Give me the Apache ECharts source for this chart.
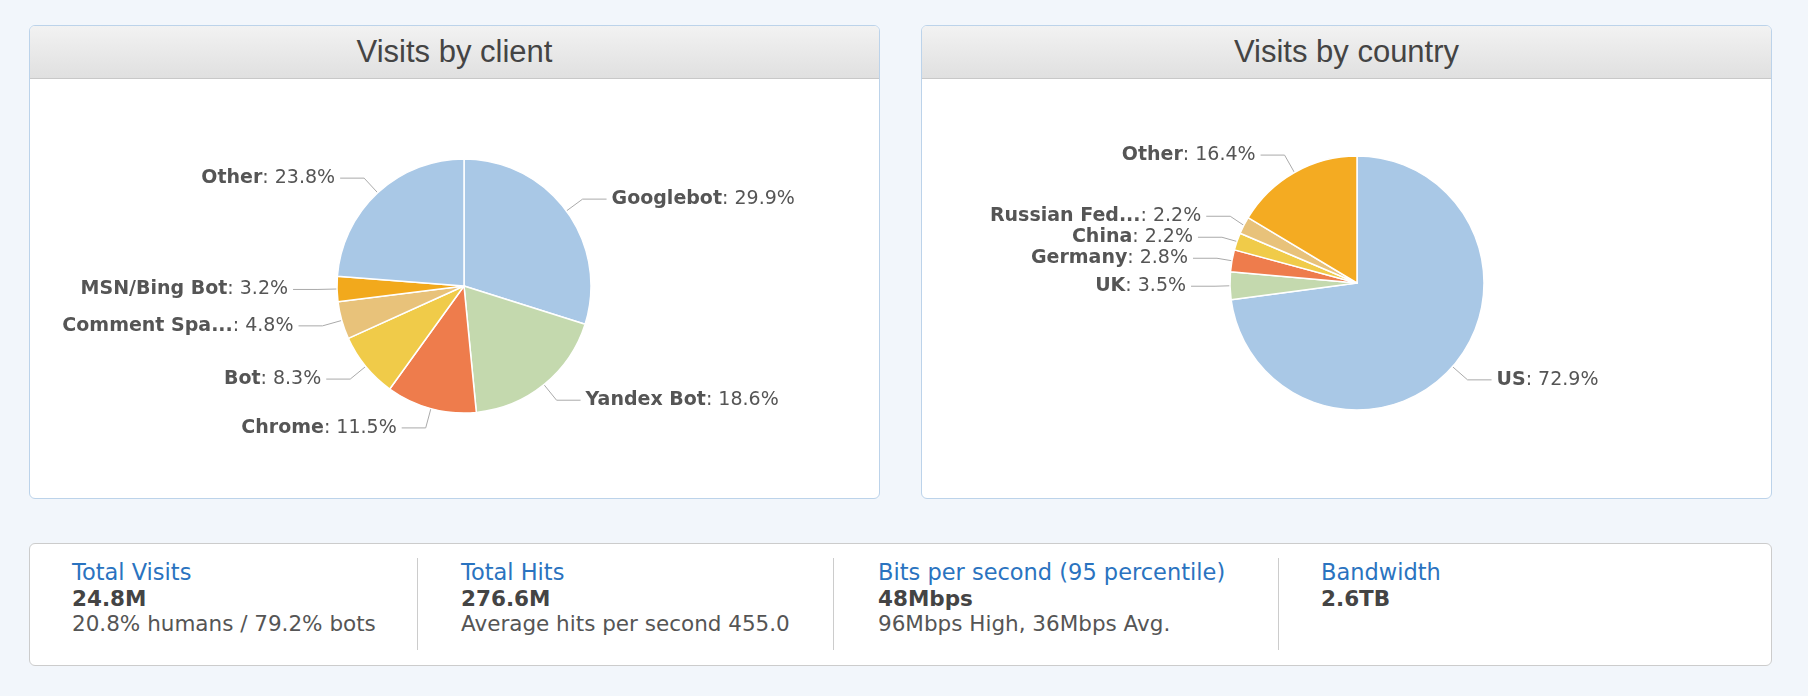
<!DOCTYPE html>
<html><head><meta charset="utf-8">
<script src="https://cdn.jsdelivr.net/npm/echarts@6/dist/echarts.min.js"></script>
<style>
body{margin:0;background:#f2f6fb;font-family:"DejaVu Sans",Arial,sans-serif;width:1808px;height:696px;position:relative;overflow:hidden}
.panel{position:absolute;top:25px;width:849px;height:472px;background:#fff;border:1px solid #bcd3ea;border-radius:6px;overflow:hidden}
.hdr{height:52px;background:linear-gradient(#f2f2f2,#e0e0e0);border-bottom:1px solid #c8c8c8;text-align:center;line-height:52px;font-size:31px;color:#444;font-family:"Liberation Sans",Arial,sans-serif}
.chart{position:absolute;top:53px;left:0;width:849px;height:419px}
#stats{position:absolute;left:29px;top:543px;width:1741px;height:121px;background:#fff;border:1px solid #ccc;border-radius:6px}
.col{position:absolute;top:14px;font-size:21.5px;color:#555;line-height:25px}
.col .t{color:#2a73c0;font-size:22.5px;line-height:28px}
.col b{color:#444}
.div{position:absolute;top:14px;width:1px;height:92px;background:#ccc}
</style></head><body>
<div class="panel" style="left:29px"><div class="hdr">Visits by client</div><div class="chart" id="c1"></div></div>
<div class="panel" style="left:921px"><div class="hdr">Visits by country</div><div class="chart" id="c2"></div></div>
<div id="stats">
<div class="col" style="left:42px"><div class="t">Total Visits</div><b>24.8M</b><br>20.8% humans / 79.2% bots</div>
<div class="div" style="left:387px"></div>
<div class="col" style="left:431px"><div class="t">Total Hits</div><b>276.6M</b><br>Average hits per second 455.0</div>
<div class="div" style="left:803px"></div>
<div class="col" style="left:848px"><div class="t">Bits per second (95 percentile)</div><b>48Mbps</b><br>96Mbps High, 36Mbps Avg.</div>
<div class="div" style="left:1248px"></div>
<div class="col" style="left:1291px"><div class="t">Bandwidth</div><b>2.6TB</b></div>
</div>
<script>
const clientNames=["Googlebot","Yandex Bot","Chrome","Bot","Comment Spa...","MSN/Bing Bot","Other"];
const clientValues=[29.9,18.6,11.5,8.3,4.8,3.2,23.8];
const clientColors=["#a9c8e6","#c4d9ae","#ee7c4c","#f0cb49","#e8c27a","#f2a91c","#a9c8e6"];
const countryNames=["US","UK","Germany","China","Russian Fed...","Other"];
const countryValues=[72.9,3.5,2.8,2.2,2.2,16.4];
const countryColors=["#a9c8e6","#c4d9ae","#ee7c4c","#f0cb49","#e8c27a","#f4ab22"];
function make(id,names,vals,cols,center){
  const c=echarts.init(document.getElementById(id));
  c.setOption({animation:false,series:[{type:'pie',radius:127,center:center,startAngle:90,
    data:names.map((n,i)=>({name:n,value:vals[i],itemStyle:{color:cols[i]}})),
    itemStyle:{borderColor:'#fff',borderWidth:1.5},
    label:{formatter:p=>'{b|'+p.name+'}{n|: '+p.value.toFixed(1)+'%}',
      rich:{b:{fontWeight:'bold',fontSize:19,color:'#555',fontFamily:'DejaVu Sans'},n:{fontSize:19,color:'#555',fontFamily:'DejaVu Sans'}}},
    labelLine:{length:20,length2:24,lineStyle:{color:'#aaa'}}}]});
}
make('c1',clientNames,clientValues,clientColors,[434,207]);
make('c2',countryNames,countryValues,countryColors,[435,204]);
</script></body></html>
